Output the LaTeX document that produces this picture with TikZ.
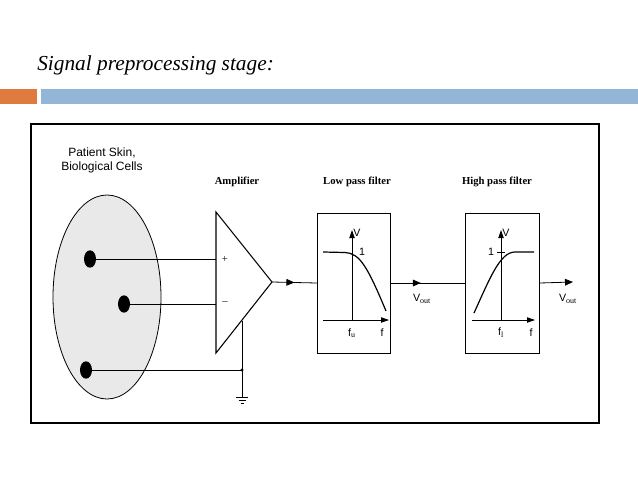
\documentclass[tikz,border=0pt]{standalone}
\usepackage{fontspec}
\setmainfont{Liberation Serif}
\newfontfamily\sansf{Liberation Sans}
\usetikzlibrary{arrows.meta,decorations.markings,shapes.geometric}
\begin{document}
\begin{tikzpicture}[x=0.75pt,y=-0.75pt,
  wire/.style={line width=0.6pt},
  box/.style={draw,line width=0.7pt},
  midarrow/.style={postaction={decorate},decoration={markings,mark=at position #1 with {\arrow{Triangle[length=6pt,width=5pt]}}}},
  axis/.style={line width=0.6pt,-{Triangle[length=6pt,width=4pt]}},
  dot/.style={ellipse,fill=black,minimum width=9pt,minimum height=13pt,inner sep=0pt},
  hdr/.style={font=\fontsize{8}{9}\selectfont\bfseries},
  lbl/.style={font=\sansf\fontsize{8}{9}\selectfont,inner sep=0pt}]
\useasboundingbox (0,0) rectangle (638,478);
\fill[white] (0,0) rectangle (638,478);
\node[anchor=base west,font=\fontsize{16}{18}\selectfont\itshape,inner sep=0pt] (title) at (37,70) {Signal preprocessing stage:};
\fill[fill={rgb,255:red,224;green,123;blue,64}] (0,89) rectangle (37,104);
\fill[fill={rgb,255:red,148;green,182;blue,214}] (41,89) rectangle (638,104);
\draw[line width=1pt] (31,124) rectangle (599,423);
% skin
\node[draw,ellipse,fill=gray!17,minimum width=81pt,minimum height=153pt,inner sep=0pt,line width=0.6pt] (skin) at (107,297) {};
\node[align=center,font=\sansf\fontsize{9}{10.5}\selectfont] (sk) at (102,160) {Patient Skin,\\Biological Cells};
\node[dot] (d1) at (90,259) {};
\node[dot] (d2) at (124,304) {};
\node[dot] (d3) at (86,370) {};
% amplifier
\coordinate (aT) at (216,212); \coordinate (aB) at (216,353); \coordinate (aO) at (272,282);
\draw[line width=0.8pt] (aT) -- (aO) -- (aB) -- cycle;
\node[hdr] (amp) at (237,182) {Amplifier};
\node[font=\fontsize{8}{9}\selectfont] (plus) at (225,259) {+};
\node[font=\fontsize{8}{9}\selectfont] (minus) at (225,303) {--};
\coordinate (ip) at (216,259); \coordinate (im) at (216,304);
\draw[wire] (d1.center) -- (ip);
\draw[wire] (d2.center) -- (im);
\coordinate (g0) at (242,321); \coordinate (gj) at (242,370); \coordinate (g1) at (242,397);
\draw[wire] (d3.center) -- (gj);
\draw[wire] (g0) -- (g1);
\fill (gj) circle (1.2pt);
\draw[wire] (236,397) -- (248,397) (238.5,400) -- (245.5,400) (240.5,403) -- (243.5,403);
% LPF
\node[box,minimum width=55pt,minimum height=105pt,inner sep=0pt] (lpf) at (354,283) {};
\node[hdr] (lh) at (357,182) {Low pass filter};
\draw[wire,midarrow=0.5] (aO) -- (lpf.west);
\draw[axis] (352,320) -- (352,230);
\draw[axis] (323,320) -- (389,320);
\draw[line width=0.9pt] (323,252) -- (345,252.5) .. controls (360,253) and (368,268) .. (386,311);
\node[lbl] (lv) at (357,233) {V};
\node[lbl] (l1) at (362,252) {1};
\node[lbl] (lfu) at (352,333) {f$_\mathrm{u}$};
\node[lbl] (lf) at (382,333) {f};
% HPF
\node[box,minimum width=55pt,minimum height=105pt,inner sep=0pt] (hpf) at (502.5,283) {};
\node[hdr] (hh) at (497,182) {High pass filter};
\draw[wire,midarrow=0.4] (lpf.east) -- (hpf.west);
\node[lbl] (vo1) at (422,299) {V$_\mathrm{out}$};
\draw[axis] (501,320) -- (501,230);
\draw[axis] (472,320) -- (535,320);
\draw[line width=0.9pt] (474,313) .. controls (490,278) and (500,252) .. (515,252) -- (534,252);
\draw[wire] (497,252) -- (505,252);
\node[lbl] (hv) at (506,233) {V};
\node[lbl] (h1) at (491,252) {1};
\node[lbl] (hfl) at (501,333) {f$_\mathrm{l}$};
\node[lbl] (hf) at (531,333) {f};
\coordinate (out) at (573,282);
\draw[wire,-{Triangle[length=6pt,width=5pt]}] (hpf.east) -- (out);
\node[lbl] (vo2) at (568,299) {V$_\mathrm{out}$};
\end{tikzpicture}
\end{document}
